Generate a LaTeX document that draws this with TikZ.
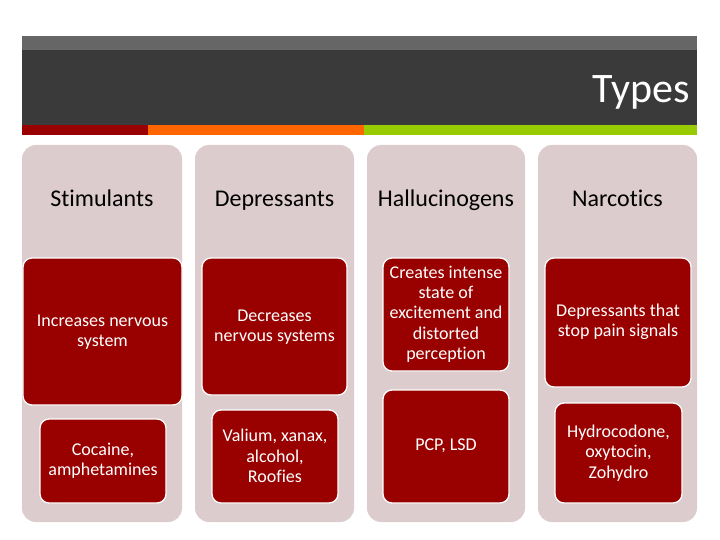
\documentclass[tikz,border=0pt]{standalone}
\usepackage{fontspec}
\setmainfont{Carlito}[Ligatures=NoCommon]
\definecolor{hdrlight}{HTML}{666666}
\definecolor{hdrdark}{HTML}{3A3A3A}
\definecolor{stripred}{HTML}{990000}
\definecolor{stripora}{HTML}{FF6600}
\definecolor{stripgrn}{HTML}{99CC00}
\definecolor{colbg}{RGB}{220,204,206}
\definecolor{boxred}{HTML}{990000}
\begin{document}
\begin{tikzpicture}[x=1pt,y=-1pt,
  colbox/.style={fill=colbg,draw=none,rounded corners=14pt},
  inbox/.style={fill=boxred,draw=white,line width=1.3pt,rounded corners=9pt},
  ttl/.style={font=\fontsize{24}{28}\selectfont,text=black,anchor=base,inner sep=0pt},
  intext/.style={font=\fontsize{18}{20.3}\selectfont,text=white,align=center}]
\useasboundingbox (0,0) rectangle (720,540);
\fill[white] (0,0) rectangle (720,540);
% header
\fill[hdrlight] (22,36) rectangle (697,50);
\fill[hdrdark] (22,50) rectangle (697,125);
\fill[stripred] (22,125) rectangle (148,135);
\fill[stripora] (148,125) rectangle (364,135);
\fill[stripgrn] (364,125) rectangle (697,135);
\node[anchor=base east,text=white,font=\fontsize{42}{48}\selectfont,inner sep=0pt] (title) at (690,103) {Types};
% columns
\draw[colbox] (22,145) rectangle (182,522);
\draw[colbox] (195,145) rectangle (354,522);
\draw[colbox] (367,145) rectangle (525,522);
\draw[colbox] (538,145) rectangle (697,522);
\node[ttl] (t1) at (102,207) {Stimulants};
\node[ttl] (t2) at (274.5,207) {Depressants};
\node[ttl] (t3) at (446,207) {Hallucinogens};
\node[ttl] (t4) at (617.5,207) {Narcotics};
% col 1
\draw[inbox] (23,258) rectangle (182,405);
\node[intext] (a1) at (102.5,332) {Increases nervous\\system};
\draw[inbox] (40,419) rectangle (166,503);
\node[intext] (b1) at (103,461) {Cocaine,\\amphetamines};
% col 2
\draw[inbox] (202,258) rectangle (347,395);
\node[intext] (a2) at (274.5,327) {Decreases\\nervous systems};
\draw[inbox] (212,410) rectangle (338,503);
\node[intext] (b2) at (275,456) {Valium, xanax,\\alcohol,\\Roofies};
% col 3
\draw[inbox] (383,258) rectangle (509,371);
\node[intext] (a3) at (446,314) {Creates intense\\state of\\excitement and\\distorted\\perception};
\draw[inbox] (383,390) rectangle (509,503);
\node[intext] (b3) at (446,446) {PCP, LSD};
% col 4
\draw[inbox] (545,258) rectangle (691,387);
\node[intext] (a4) at (618,322) {Depressants that\\stop pain signals};
\draw[inbox] (555,403) rectangle (682,503);
\node[intext] (b4) at (618.5,453) {Hydrocodone,\\oxytocin,\\Zohydro};
\end{tikzpicture}
\end{document}
